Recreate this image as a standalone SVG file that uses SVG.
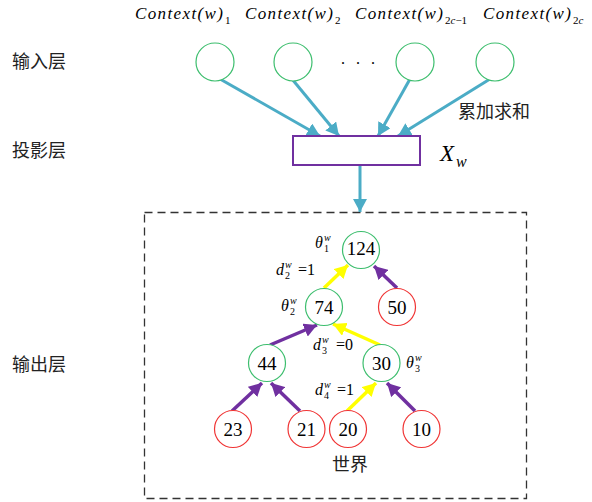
<svg xmlns="http://www.w3.org/2000/svg" width="592" height="502" viewBox="0 0 592 502">
<style>
.cn{font-family:"Noto Sans CJK SC","Noto Sans",sans-serif;font-size:18px;fill:#222}
.ctx{font-family:"Liberation Serif",serif;font-style:italic;font-size:17px;fill:#000}
.sub{font-family:"Liberation Serif",serif;font-size:11px;fill:#000}
.m{font-family:"Liberation Serif",serif;font-style:italic;font-size:16px;fill:#000}
.ms{font-family:"Liberation Serif",serif;font-style:italic;font-size:10px;fill:#000}
.mn{font-family:"Liberation Serif",serif;font-size:10px;fill:#000}
.eq{font-family:"Liberation Serif",serif;font-size:16px;fill:#000}
.num{font-family:"Liberation Serif",serif;font-size:19px;fill:#000;text-anchor:middle}
.gn{fill:#fff;stroke:#3DBE6E;stroke-width:1.2}
.rn{fill:#fff;stroke:#F03535;stroke-width:1.2}
.teal{stroke:#4BACC6;stroke-width:3;fill:none;marker-end:url(#ht)}
.pur{stroke:#7030A0;stroke-width:3.5;fill:none;marker-end:url(#hp)}
.yel{stroke:#FFFF00;stroke-width:3.5;fill:none;marker-end:url(#hy)}
</style>
<defs>
<marker id="ht" markerUnits="userSpaceOnUse" markerWidth="14" markerHeight="14" refX="13" refY="7" orient="auto"><path d="M0,0 L13,7 L0,14 z" fill="#4BACC6"/></marker>
<marker id="hp" markerUnits="userSpaceOnUse" markerWidth="14" markerHeight="14" refX="13" refY="7" orient="auto"><path d="M0,0 L13,7 L0,14 z" fill="#7030A0"/></marker>
<marker id="hy" markerUnits="userSpaceOnUse" markerWidth="14" markerHeight="14" refX="13" refY="7" orient="auto"><path d="M0,0 L13,7 L0,14 z" fill="#FFFF00"/></marker>
</defs>
<rect width="592" height="502" fill="#fff"/>

<g id="context-labels">
<text class="ctx" x="135" y="19" textLength="88" lengthAdjust="spacing">Context(w)</text><text class="sub" x="225" y="24">1</text>
<text class="ctx" x="245" y="19" textLength="88" lengthAdjust="spacing">Context(w)</text><text class="sub" x="335" y="24">2</text>
<text class="ctx" x="355" y="19" textLength="88" lengthAdjust="spacing">Context(w)</text><text class="sub" x="445" y="24">2<tspan font-style="italic">c</tspan>−1</text>
<text class="ctx" x="483" y="19" textLength="88" lengthAdjust="spacing">Context(w)</text><text class="sub" x="573" y="24">2<tspan font-style="italic">c</tspan></text>
</g>

<g id="layer-labels">
<text class="cn" x="12" y="68">输入层</text>
<text class="cn" x="12" y="157">投影层</text>
<text class="cn" x="12" y="371">输出层</text>
</g>

<g id="dashed-box"><rect x="144.5" y="212.5" width="382" height="286" fill="none" stroke="#333" stroke-width="1.3" stroke-dasharray="8,5"/></g>

<g id="connectors">
<line class="teal" x1="220" y1="79" x2="320" y2="136"/>
<line class="teal" x1="292" y1="79" x2="339" y2="136"/>
<line class="teal" x1="410" y1="79" x2="378" y2="136"/>
<line class="teal" x1="490" y1="79" x2="398" y2="136"/>
<line class="teal" x1="360" y1="165" x2="360" y2="212"/>
<line class="yel" x1="324" y1="288" x2="348" y2="265"/>
<line class="pur" x1="397" y1="288" x2="374" y2="266"/>
<line class="pur" x1="270" y1="345" x2="317" y2="325"/>
<line class="yel" x1="380" y1="345" x2="333" y2="324"/>
<line class="pur" x1="232" y1="411" x2="262" y2="383"/>
<line class="pur" x1="300" y1="411" x2="271" y2="383"/>
<line class="yel" x1="347" y1="411" x2="376" y2="383"/>
<line class="pur" x1="415" y1="411" x2="387" y2="383"/>
</g>

<g id="input-nodes">
<circle class="gn" cx="215" cy="62" r="19"/>
<circle class="gn" cx="293" cy="62" r="19"/>
<circle class="gn" cx="415" cy="62" r="19"/>
<circle class="gn" cx="495" cy="62" r="19"/>
<text class="eq" x="341" y="64">.</text><text class="eq" x="356" y="64">.</text><text class="eq" x="371" y="64">.</text>
</g>

<g id="projection">
<rect x="293" y="136" width="127" height="29" fill="#fff" stroke="#7030A0" stroke-width="2"/>
<text class="cn" x="458" y="118">累加求和</text>
<text font-family="Liberation Serif,serif" font-style="italic" font-size="23" x="440" y="161">X</text><text class="m" font-size="14" x="456" y="167">w</text>
</g>

<g id="node-124"><circle class="gn" cx="361" cy="250" r="18.5"/><text class="num" font-size="15" x="361" y="255">124</text></g>
<g id="node-74"><circle class="gn" cx="324" cy="307" r="18.5"/><text class="num" x="324" y="313.5">74</text></g>
<g id="node-50"><circle class="rn" cx="397" cy="307" r="18.5"/><text class="num" x="397" y="313.5">50</text></g>
<g id="node-44"><circle class="gn" cx="267" cy="363" r="18.5"/><text class="num" x="267" y="369.5">44</text></g>
<g id="node-30"><circle class="gn" cx="381.5" cy="363" r="18.5"/><text class="num" x="381.5" y="369.5">30</text></g>
<g id="node-23"><circle class="rn" cx="233" cy="429" r="18.5"/><text class="num" x="233" y="435.5">23</text></g>
<g id="node-21"><circle class="rn" cx="306.5" cy="429" r="18.5"/><text class="num" x="306.5" y="435.5">21</text></g>
<g id="node-20"><circle class="rn" cx="348" cy="429" r="18.5"/><text class="num" x="348" y="435.5">20</text></g>
<g id="node-10"><circle class="rn" cx="421.5" cy="429" r="18.5"/><text class="num" x="421.5" y="435.5">10</text></g>

<g id="tree-labels">
<text class="m" x="315" y="248">θ</text><text class="ms" x="324" y="241">w</text><text class="mn" x="324" y="252">1</text>
<text class="m" x="276" y="275">d</text><text class="ms" x="285" y="268">w</text><text class="mn" x="285" y="279">2</text><text class="eq" x="298" y="275">=1</text>
<text class="m" x="281" y="311">θ</text><text class="ms" x="290" y="304">w</text><text class="mn" x="290" y="315">2</text>
<text class="m" x="313" y="350">d</text><text class="ms" x="322" y="343">w</text><text class="mn" x="322" y="354">3</text><text class="eq" x="336" y="350">=0</text>
<text class="m" x="406" y="368">θ</text><text class="ms" x="415" y="361">w</text><text class="mn" x="415" y="372">3</text>
<text class="m" x="315" y="395">d</text><text class="ms" x="324" y="388">w</text><text class="mn" x="324" y="399">4</text><text class="eq" x="337" y="395">=1</text>
<text class="cn" x="332" y="471">世界</text>
</g>
</svg>
